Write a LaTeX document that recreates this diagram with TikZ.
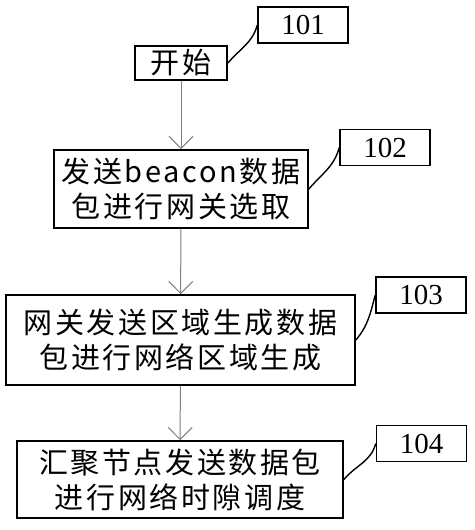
\documentclass[tikz,border=0pt]{standalone}
\usepackage{fontspec}
\usepackage{tikz}
\usetikzlibrary{arrows.meta}
\newfontfamily\cjk{Noto Sans CJK SC}[LetterSpace=9]
\newfontfamily\numfont{Liberation Serif}

\begin{document}
\begin{tikzpicture}[x=1pt,y=-1pt,
    stepbox/.style={draw=black,line width=1.8pt,inner sep=0pt,align=center,
        font=\cjk\fontsize{29}{35}\selectfont},
    numbox/.style={draw=black,line width=1.5pt,inner sep=0pt,minimum width=90pt,
        minimum height=36pt,font=\numfont\fontsize{29}{30}\selectfont},
    flow/.style={draw=gray,line width=1pt,-{Straight Barb[length=12pt,width=24pt]}},
    tag/.style={draw=black,line width=1.4pt,out=50,in=-105}]
        \fill [white] (0,0) rectangle (474,530);
        \node [stepbox,minimum width=92pt,minimum height=34pt] (start) at (181,63) {开始};
        \node [stepbox,minimum width=254pt,minimum height=78pt] (beacon) at (181,189) {发送beacon数据\\包进行网关选取};
        \node [stepbox,minimum width=349pt,minimum height=90pt] (region) at (180.5,340) {网关发送区域生成数据\\包进行网络区域生成};
        \node [stepbox,minimum width=326pt,minimum height=77pt] (slot) at (180,479.5) {汇聚节点发送数据包\\进行网络时隙调度};
        \node [numbox] (n101) at (303,25) {101};
        \node [numbox] (n102) at (385,147.5) {102};
        \node [numbox] (n103) at (421,295) {103};
        \node [numbox] (n104) at (421.5,443.5) {104};
        \draw [flow] (start) -- (beacon);
        \draw [flow] (beacon) -- (region);
        \draw [flow] (region) -- (slot);
        \draw [tag] (start.east) to (n101.west);
        \draw [tag] (beacon.east) to (n102.west);
        \draw [tag] (region.east) to (n103.west);
        \draw [tag] (slot.east) to (n104.west);
    \end{tikzpicture}
\end{document}
